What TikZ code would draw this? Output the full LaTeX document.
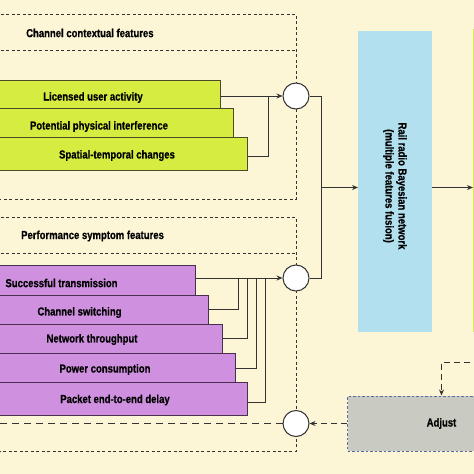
\documentclass[tikz,border=0pt]{standalone}
\usepackage{fontspec}
\setmainfont{Liberation Sans}[FakeStretch=0.82, BoldFeatures={FakeBold=0.6}]
\usetikzlibrary{arrows.meta}
\definecolor{bgc}{HTML}{FDF6D6}
\definecolor{gfill}{HTML}{D6EC40}
\definecolor{gborder}{HTML}{4A4A28}
\definecolor{pfill}{HTML}{CF90E0}
\definecolor{pborder}{HTML}{4A3050}
\definecolor{bluec}{HTML}{B2E0EF}
\definecolor{grayc}{HTML}{C9CBC2}
\definecolor{adjb}{HTML}{5A6AA8}
\definecolor{linec}{HTML}{333333}
\begin{document}
\begin{tikzpicture}[x=1pt,y=-1pt,
  lbl/.style={font=\bfseries\fontsize{11.6}{13}\selectfont, text=black, inner sep=0pt},
  gbox/.style={draw=gborder, fill=gfill, line width=0.9pt, minimum height=33pt, inner sep=0pt, anchor=north east},
  pbox/.style={draw=pborder, fill=pfill, line width=0.9pt, minimum height=33pt, inner sep=0pt, anchor=north east},
  conn/.style={draw=linec, line width=1pt},
  arr/.style={conn, -{Stealth[length=6pt,width=5pt]}},
  darr/.style={conn, dash pattern=on 6pt off 4pt, -{Stealth[length=6pt,width=5pt]}},
  dline/.style={conn, dash pattern=on 7pt off 5pt},
  frame/.style={draw=linec, line width=0.9pt, dash pattern=on 3pt off 2.5pt},
  junction/.style={circle, draw=linec, fill=white, line width=1pt, minimum size=26pt, inner sep=0pt},
]
\clip (0,0) rectangle (474,474);
\fill[bgc] (0,0) rectangle (474,474);

% frames
\draw[frame] (-5,14) -- (296,14) -- (296,199) -- (-5,199);
\draw[frame] (-5,50) -- (296,50);
\draw[frame] (-5,217) -- (296,217) -- (296,451) -- (-5,451);
\draw[frame] (-5,253) -- (296,253);

\node[lbl, anchor=west] (h1) at (26,33) {Channel contextual features};
\node[lbl, anchor=west] (h2) at (21,236) {Performance symptom features};

% green boxes
\node[gbox, minimum width=261pt] (g1) at (221,80) {};
\node[gbox, minimum width=274pt] (g2) at (234,108) {};
\node[gbox, minimum width=288pt] (g3) at (248,137) {};
\node[lbl] (g1t) at (93,97.5) {Licensed user activity};
\node[lbl] (g2t) at (99,126.5) {Potential physical interference};
\node[lbl] (g3t) at (117,155.5) {Spatial-temporal changes};

% purple boxes
\node[pbox, minimum width=236pt] (p1) at (196,265) {};
\node[pbox, minimum width=249pt] (p2) at (209,295) {};
\node[pbox, minimum width=263pt] (p3) at (223,324) {};
\node[pbox, minimum width=276pt] (p4) at (236,353) {};
\node[pbox, minimum width=288pt] (p5) at (248,382) {};
\node[lbl] (p1t) at (61.5,283) {Successful transmission};
\node[lbl] (p2t) at (79.5,312.5) {Channel switching};
\node[lbl] (p3t) at (92,339.5) {Network throughput};
\node[lbl] (p4t) at (105,369.5) {Power consumption};
\node[lbl] (p5t) at (115,400) {Packet end-to-end delay};

% junctions
\node[junction] (c1) at (296,96) {};
\node[junction] (c2) at (296,278) {};
\node[junction] (c3) at (296,423.5) {};

% bayesian network
\node[fill=bluec, minimum width=74pt, minimum height=301pt, inner sep=0pt, anchor=north west] (bn) at (358,31) {};
\node[lbl, rotate=-90, align=center] (bnt) at (395,186) {Rail radio Bayesian network\\(multiple features fusion)};
\node[fill=gfill, minimum width=20pt, minimum height=303pt, inner sep=0pt, anchor=north west] (fus) at (473,29) {};

% adjust
\node[lbl, fill=grayc, draw=adjb, line width=1pt, dash pattern=on 2.5pt off 2pt, minimum width=188pt, minimum height=55pt, anchor=west] (adj) at (347,423.5) {Adjust};

% connectors: green
\coordinate (jg) at (268,96);
\draw[arr] (g1.east |- c1) -- (c1.west);
\draw[conn] ([yshift=-2.5pt]g3.east) -| (jg);

% connectors: purple
\coordinate (jp2) at (238,278);
\coordinate (jp3) at (247,278);
\coordinate (jp4) at (256,278);
\coordinate (jp5) at (265,278);
\draw[arr] (p1.east |- c2) -- (c2.west);
\draw[conn] ([yshift=2.5pt]p2.east) -| (jp2);
\draw[conn] ([yshift=2.5pt]p3.east) -| (jp3);
\draw[conn] ([yshift=1.5pt]p4.east) -| (jp4);
\draw[conn] ([yshift=-3.5pt]p5.east) -| (jp5);

% to the bayesian network
\coordinate (m) at (321,187.5);
\draw[conn] (c1.east) -| (m);
\draw[conn] (c2.east) -| (m);
\draw[arr] (m) -- (bn.west |- m);
\draw[arr] (bn.east |- m) -- (fus.west |- m);

% adjust loop
\coordinate (fb) at (480,362);
\coordinate (lft) at (-5,423.5);
\draw[darr] (fb) -| (adj.north);
\draw[darr] (adj.west) -- (c3.east);
\draw[dline] (c3.west) -- (lft);
\end{tikzpicture}
\end{document}
